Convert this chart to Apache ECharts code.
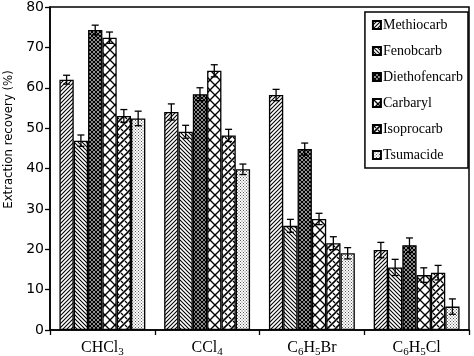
<!DOCTYPE html>
<html><head><meta charset="utf-8">
<script src="https://cdn.jsdelivr.net/npm/echarts@6/dist/echarts.min.js"></script>
<style>html,body{margin:0;padding:0;background:#fff}#c{width:474px;height:356px}</style>
</head><body><div id="c"></div>
<script>
var categories = ['CHCl3', 'CCl4', 'C6H5Br', 'C6H5Cl'];
var seriesNames = ['Methiocarb', 'Fenobcarb', 'Diethofencarb', 'Carbaryl', 'Isoprocarb', 'Tsumacide'];
var methiocarb    = [62.0, 54.0, 58.2, 19.8];
var fenobcarb     = [46.9, 49.1, 25.8, 15.5];
var diethofencarb = [74.3, 58.4, 44.8, 21.0];
var carbaryl      = [72.4, 64.2, 27.5, 13.6];
var isoprocarb    = [53.0, 48.2, 21.5, 14.2];
var tsumacide     = [52.4, 39.8, 19.0, 5.8];
var errMethiocarb    = [1.1, 2.0, 1.4, 1.9];
var errFenobcarb     = [1.4, 1.6, 1.6, 2.0];
var errDiethofencarb = [1.2, 1.6, 1.5, 1.8];
var errCarbaryl      = [1.4, 1.5, 1.4, 1.8];
var errIsoprocarb    = [1.6, 1.5, 1.6, 1.8];
var errTsumacide     = [1.8, 1.3, 1.4, 1.9];
var yTicks = [0, 10, 20, 30, 40, 50, 60, 70, 80];

var values = [methiocarb, fenobcarb, diethofencarb, carbaryl, isoprocarb, tsumacide];
var errors = [errMethiocarb, errFenobcarb, errDiethofencarb, errCarbaryl, errIsoprocarb, errTsumacide];

function pattern(kind) {
  var c = document.createElement('canvas');
  var ctx;
  function line(x1, y1, x2, y2) { ctx.beginPath(); ctx.moveTo(x1, y1); ctx.lineTo(x2, y2); ctx.stroke(); }
  var s;
  if (kind === 'fwd' || kind === 'back') { s = 4; }
  else if (kind === 'dense') { s = 4; }
  else if (kind === 'cross') { s = 10; }
  else if (kind === 'wide') { s = 8; }
  else { s = 3; }
  c.width = s; c.height = s;
  ctx = c.getContext('2d');
  ctx.fillStyle = '#fff'; ctx.fillRect(0, 0, s, s);
  ctx.strokeStyle = '#000'; ctx.fillStyle = '#000';
  if (kind === 'fwd') {
    ctx.lineWidth = 1.1;
    line(-1, s + 1, s + 1, -1); line(-1, 1, 1, -1); line(s - 1, s + 1, s + 1, s - 1);
  } else if (kind === 'back') {
    ctx.lineWidth = 1.1;
    line(-1, -1, s + 1, s + 1); line(s - 1, -1, s + 1, 1); line(-1, s - 1, 1, s + 1);
  } else if (kind === 'dense') {
    ctx.lineWidth = 1.3;
    line(-1, s + 1, s + 1, -1); line(-1, 1, 1, -1); line(s - 1, s + 1, s + 1, s - 1);
    line(-1, -1, s + 1, s + 1); line(s - 1, -1, s + 1, 1); line(-1, s - 1, 1, s + 1);
  } else if (kind === 'cross') {
    ctx.lineWidth = 1.3;
    line(-1, s + 1, s + 1, -1); line(-1, -1, s + 1, s + 1);
    line(-2, 2, 2, -2); line(s - 2, s + 2, s + 2, s - 2);
    line(s - 2, -2, s + 2, 2); line(-2, s - 2, 2, s + 2);
  } else if (kind === 'wide') {
    ctx.lineWidth = 1.6;
    line(-1, s + 1, s + 1, -1); line(-2, 2, 2, -2); line(s - 2, s + 2, s + 2, s - 2);
    ctx.lineWidth = 1.2;
    line(1, 1, 3, 3); line(5, 5, 7, 7);
  } else {
    ctx.fillStyle = '#555';
    ctx.fillRect(0, 0, 1, 1);
    ctx.fillRect(1.5, 1.5, 1, 1);
  }
  return { image: c, repeat: 'repeat' };
}
var kinds = ['fwd', 'back', 'dense', 'cross', 'wide', 'dots'];

var GAP = 0.18;
var catLabels = {
  'CHCl3': 'CHCl{s|3}',
  'CCl4': 'CCl{s|4}',
  'C6H5Br': 'C{s|6}H{s|5}Br',
  'C6H5Cl': 'C{s|6}H{s|5}Cl'
};

var series = seriesNames.map(function (name, i) {
  return {
    name: name,
    type: 'bar',
    data: values[i],
    barGap: '0%',
    barCategoryGap: (GAP * 100) + '%',
    itemStyle: { color: pattern(kinds[i]), borderColor: '#000', borderWidth: 1.3 },
    emphasis: { disabled: true },
    animation: false
  };
});

var errData = [];
for (var si = 0; si < values.length; si++) {
  for (var ci = 0; ci < categories.length; ci++) {
    errData.push([ci, si, values[si][ci], errors[si][ci]]);
  }
}
series.push({
  type: 'custom',
  name: 'err',
  data: errData,
  encode: { x: 0, y: 2 },
  z: 10,
  animation: false,
  renderItem: function (params, api) {
    var cat = api.value(0), s = api.value(1), v = api.value(2), e = api.value(3);
    var band = api.size([1, 0])[0];
    var bw = band * (1 - GAP) / 6;
    var c = api.coord([cat, v]);
    var x = c[0] - band * (1 - GAP) / 2 + (s + 0.5) * bw;
    var yt = api.coord([cat, v + e])[1];
    var yb = api.coord([cat, v - e])[1];
    var st = { stroke: '#000', lineWidth: 1.3 };
    return {
      type: 'group',
      children: [
        { type: 'line', shape: { x1: x, y1: yt, x2: x, y2: yb }, style: st },
        { type: 'line', shape: { x1: x - 3.5, y1: yt, x2: x + 3.5, y2: yt }, style: st },
        { type: 'line', shape: { x1: x - 3.5, y1: yb, x2: x + 3.5, y2: yb }, style: st }
      ]
    };
  }
});

var chart = echarts.init(document.getElementById('c'), null, { renderer: 'canvas' });
chart.setOption({
  animation: false,
  backgroundColor: '#fff',
  grid: { left: 50, right: 5, top: 7, bottom: 26, containLabel: false, outerBoundsMode: 'none', show: true, borderColor: '#000', borderWidth: 1.5, backgroundColor: 'transparent' },
  legend: {
    data: seriesNames,
    orient: 'vertical',
    right: 6,
    top: 12,
    width: 108,
    padding: [5, 5, 5, 7],
    itemWidth: 8,
    itemHeight: 8,
    itemGap: 10,
    borderColor: '#000',
    borderWidth: 1.5,
    backgroundColor: '#fff',
    icon: 'rect',
    selectedMode: false,
    textStyle: { fontFamily: 'Liberation Serif', fontSize: 14, color: '#000', padding: [0, 0, 0, -3], lineHeight: 16 }
  },
  xAxis: {
    type: 'category',
    data: categories,
    axisLine: { lineStyle: { color: '#000', width: 1.5 } },
    axisTick: { show: true, inside: false, length: 5, alignWithLabel: false, interval: 0, lineStyle: { color: '#000', width: 1.3 } },
    axisLabel: {
      interval: 0,
      margin: 8,
      formatter: function (v) { return catLabels[v]; },
      fontFamily: 'Liberation Serif', fontSize: 16, color: '#000',
      rich: { s: { fontFamily: 'Liberation Serif', fontSize: 11, color: '#000', padding: [9, 0, 0, 0] } }
    }
  },
  yAxis: {
    type: 'value',
    min: 0, max: 80, interval: 10,
    name: 'Extraction recovery (%)',
    nameLocation: 'middle',
    nameGap: 34,
    nameRotate: 90,
    nameTextStyle: { fontFamily: 'DejaVu Sans Condensed', fontSize: 13, color: '#000', padding: [0, 0, 0, 58] },
    axisLine: { show: true, lineStyle: { color: '#000', width: 1.5 } },
    axisTick: { show: true, length: 5, lineStyle: { color: '#000', width: 1.3 } },
    splitLine: { show: false },
    axisLabel: {
      margin: 6,
      fontFamily: 'DejaVu Sans', fontSize: 14, color: '#000',
      formatter: function (v) { return yTicks.indexOf(v) >= 0 ? String(v) : ''; }
    }
  },
  series: series
});
</script></body></html>
